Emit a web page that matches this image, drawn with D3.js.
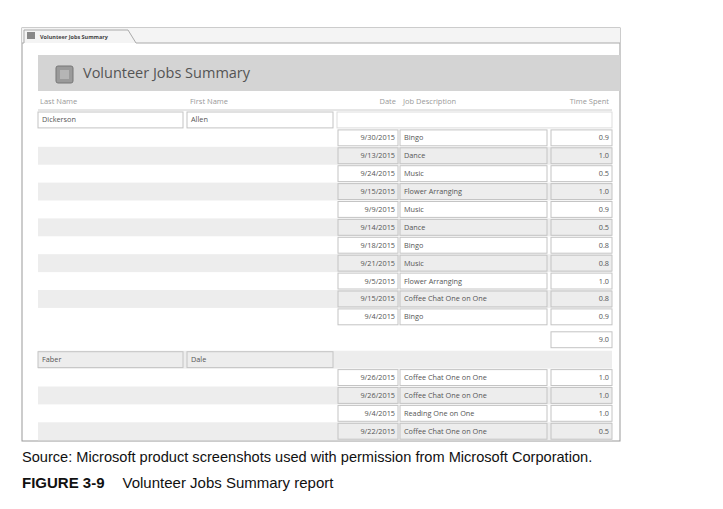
<!DOCTYPE html>
<html><head><meta charset="utf-8">
<script src="https://cdn.jsdelivr.net/npm/d3@7"></script>
<style>body{margin:0;background:#fff}</style>
</head><body>
<svg id="c" width="723" height="509"></svg>
<script>
var people = ["Dickerson|Allen", "Faber|Dale"];
var dates1 = ["9/30/2015","9/13/2015","9/24/2015","9/15/2015","9/9/2015","9/14/2015","9/18/2015","9/21/2015","9/5/2015","9/15/2015","9/4/2015"];
var jobs1 = ["Bingo","Dance","Music","Flower Arranging","Music","Dance","Bingo","Music","Flower Arranging","Coffee Chat One on One","Bingo"];
var hours1 = [0.9,1.0,0.5,1.0,0.9,0.5,0.8,0.8,1.0,0.8,0.9];
var dates2 = ["9/26/2015","9/26/2015","9/4/2015","9/22/2015"];
var jobs2 = ["Coffee Chat One on One","Coffee Chat One on One","Reading One on One","Coffee Chat One on One"];
var hours2 = [1.0,1.0,1.0,0.5];
var total1 = "9.0";

var svg = d3.select("#c");
var F = "Open Sans, sans-serif";

// build list of report lines
var lines = [];
lines.push({type:"group", name:people[0].split("|")});
dates1.forEach(function(d,i){ lines.push({type:"row", date:d, job:jobs1[i], h:hours1[i], k:i}); });
lines.push({type:"total", v:total1});
lines.push({type:"group", name:people[1].split("|")});
dates2.forEach(function(d,i){ lines.push({type:"row", date:d, job:jobs2[i], h:hours2[i], k:i}); });

var y = d3.scaleBand().domain(d3.range(lines.length)).range([111, 111 + 17.9*lines.length]);
var totalIdx = lines.findIndex(function(d){ return d.type === "total"; });
function yy(i){ return y(i) + (i > totalIdx ? 7 : 0); }

// frame
svg.append("rect").attr("x",22).attr("y",28).attr("width",598).attr("height",413).attr("fill","#fff").attr("stroke","#999");
svg.append("rect").attr("x",22).attr("y",28).attr("width",598).attr("height",15).attr("fill","#f4f4f4");
svg.append("path").attr("d","M22,43 H24 V30 H128 L136,43 H620").attr("fill","none").attr("stroke","#aaa");
svg.append("rect").attr("x",27).attr("y",32).attr("width",8).attr("height",7).attr("fill","#888");
svg.append("text").attr("x",40).attr("y",39).attr("font-family",F).attr("font-size",5.5).attr("font-weight","bold").attr("fill","#444").text("Volunteer Jobs Summary");

// title band
svg.append("rect").attr("x",38).attr("y",55).attr("width",582).attr("height",36).attr("fill","#d4d4d4");
svg.append("rect").attr("x",56).attr("y",66).attr("width",17).attr("height",17).attr("rx",2).attr("fill","#9a9a9a").attr("stroke","#777");
svg.append("rect").attr("x",60).attr("y",70).attr("width",9).attr("height",9).attr("fill","#b5b5b5");
svg.append("text").attr("x",83).attr("y",78).attr("font-family",F).attr("font-size",14.5).attr("fill","#555").text("Volunteer Jobs Summary");

// headers
var hdr = svg.append("g").attr("font-family",F).attr("font-size",7.5).attr("fill","#999");
hdr.append("text").attr("x",40).attr("y",104).text("Last Name");
hdr.append("text").attr("x",190).attr("y",104).text("First Name");
hdr.append("text").attr("x",396).attr("y",104).attr("text-anchor","end").text("Date");
hdr.append("text").attr("x",403).attr("y",104).text("Job Description");
hdr.append("text").attr("x",609).attr("y",104).attr("text-anchor","end").text("Time Spent");
svg.append("line").attr("x1",38).attr("x2",612).attr("y1",110).attr("y2",110).attr("stroke","#ccc");

function box(g, x, w, y0, h, fill){
  g.append("rect").attr("x",x).attr("y",y0+1).attr("width",w).attr("height",h-2).attr("fill",fill).attr("stroke","#c4c4c4");
}
function t(g, x, y0, s, anchor){
  g.append("text").attr("x",x).attr("y",y0).attr("text-anchor",anchor||"start")
    .attr("font-family",F).attr("font-size",7.3).attr("fill","#555").text(s);
}

var rows = svg.selectAll("g.line").data(lines).enter().append("g").attr("class","line");
rows.each(function(d,i){
  var g = d3.select(this), y0 = yy(i), h = y.bandwidth(), ym = y0 + h/2 + 2.5;
  if (d.type === "group") {
    if (i > 0) g.append("rect").attr("x",38).attr("y",y0).attr("width",574).attr("height",h).attr("fill","#ededed");
    box(g,38,145,y0,h,i>0?"#ededed":"#fff"); box(g,187,146,y0,h,i>0?"#ededed":"#fff");
    if (i === 0) g.append("rect").attr("x",337).attr("y",y0+1).attr("width",275).attr("height",h-2).attr("fill","none").attr("stroke","#ddd");
    t(g,42,ym,d.name[0]); t(g,191,ym,d.name[1]);
  } else if (d.type === "row") {
    var fill = d.k % 2 ? "#ededed" : "#fff";
    if (d.k % 2) g.append("rect").attr("x",38).attr("y",y0).attr("width",574).attr("height",h).attr("fill","#ededed");
    box(g,338,60,y0,h,fill); box(g,400,147,y0,h,fill); box(g,551,61,y0,h,fill);
    t(g,395,ym,d.date,"end"); t(g,404,ym,d.job); t(g,609,ym,d3.format(".1f")(d.h),"end");
  } else {
    box(g,551,61,y0+5,h,"#fff");
    t(g,609,ym+5,d.v,"end");
  }
});

// caption
var CF = "Liberation Sans, Arial, sans-serif";
svg.append("text").attr("x",22).attr("y",462).attr("font-family",CF).attr("font-size",14.6).attr("fill","#111")
  .text("Source: Microsoft product screenshots used with permission from Microsoft Corporation.");
var cap = svg.append("text").attr("x",22).attr("y",488).attr("font-family",CF).attr("font-size",15).attr("fill","#111");
cap.append("tspan").attr("font-weight","bold").text("FIGURE 3-9");
cap.append("tspan").attr("dx",18).text("Volunteer Jobs Summary report");
</script>
</body></html>
